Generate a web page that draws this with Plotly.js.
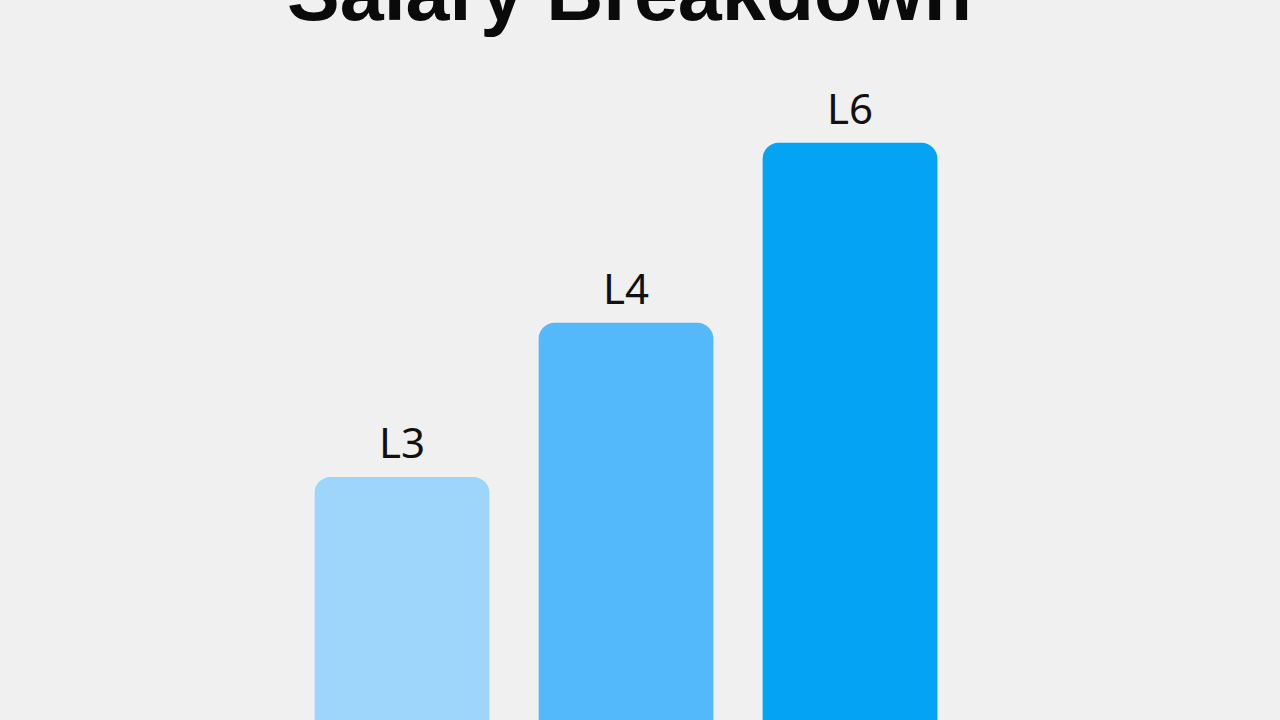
<!DOCTYPE html>
<html>
<head>
<meta charset="utf-8">
<script src="https://cdn.plot.ly/plotly-3.0.1.min.js"></script>
<style>
  html, body { margin: 0; padding: 0; background: #f0f0f0; }
  #chart { width: 1280px; height: 720px; }
</style>
</head>
<body>
<div id="chart"></div>
<script>
// levels and (estimated) salary values, in thousands
const levels = ['L3', 'L4', 'L6'];
const salaries = [70, 100, 135];
const barColors = ['#9dd5fb', '#53b9fa', '#04a3f4'];
const chartTitle = 'Salary Breakdown';

const bars = {
    type: 'bar',
    x: levels,
    y: salaries,
    marker: { color: barColors, cornerradius: 16 },
    hoverinfo: 'skip'
};

// labels sit above each bar
const labels = levels.map((lv, i) => ({
    x: lv, y: salaries[i],
    text: lv,
    showarrow: false,
    yanchor: 'bottom',
    yshift: 5,
    font: { family: 'Noto Sans, sans-serif', size: 42, color: '#111111' }
}));

// title is cropped by the top edge, as in the reference
labels.push({
    xref: 'paper', yref: 'paper',
    x: 0.5, y: 1,
    xshift: 3,
    yanchor: 'middle',
    yshift: 8,
    text: '<b>' + chartTitle + '</b>',
    showarrow: false,
    font: { family: 'Liberation Sans, Arial, sans-serif', size: 79, color: '#0a0a0a' }
});

Plotly.newPlot('chart', [bars], {
    width: 1280,
    height: 720,
    margin: { t: 0, b: 0, l: 290, r: 318 },
    paper_bgcolor: '#f0f0f0',
    plot_bgcolor: '#f0f0f0',
    bargap: 0.22,
    showlegend: false,
    xaxis: { visible: false },
    yaxis: { visible: false, range: [22.7, 162.8] },
    annotations: labels
}, { displayModeBar: false, staticPlot: true });
</script>
</body>
</html>
